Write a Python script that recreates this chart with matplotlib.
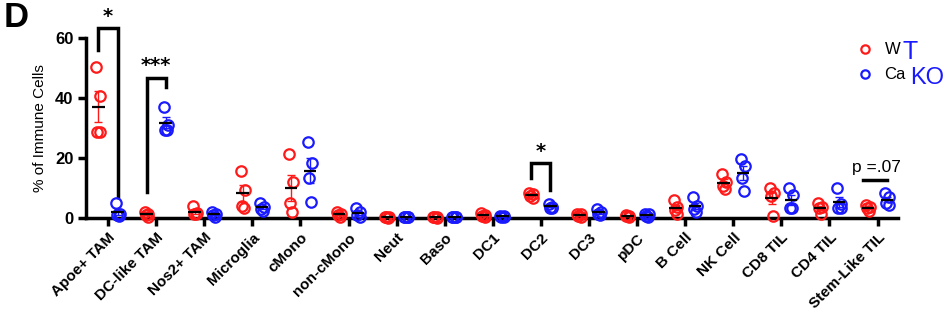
import numpy as np
import matplotlib.pyplot as plt

plt.rcParams['font.family'] = ['Liberation Sans', 'DejaVu Sans']

# cell populations on the x axis
cells = ["Apoe+ TAM", "DC-like TAM", "Nos2+ TAM", "Microglia", "cMono", "non-cMono",
         "Neut", "Baso", "DC1", "DC2", "DC3", "pDC", "B Cell", "NK Cell",
         "CD8 TIL", "CD4 TIL", "Stem-Like TIL"]

# % of immune cells, 4 mice per group
wt = [[50.4, 40.8, 28.7, 28.6], [2.0, 1.5, 1.0, 0.3], [4.0, 1.6, 1.5, 1.4],
      [15.7, 9.5, 4.0, 3.5], [21.5, 12.0, 5.0, 2.0], [2.0, 1.5, 1.0, 0.5],
      [0.4, 0.3, 0.2, 0.1], [0.4, 0.3, 0.2, 0.1], [1.6, 1.0, 0.8, 0.5],
      [8.5, 8.0, 7.5, 6.6], [1.5, 1.2, 0.8, 0.5], [1.0, 0.8, 0.6, 0.4],
      [6.0, 3.8, 2.7, 1.5], [14.7, 12.1, 10.7, 9.6], [9.9, 8.5, 7.5, 0.8],
      [4.9, 3.8, 3.2, 1.3], [4.3, 3.8, 3.2, 2.3]]
ko = [[5.0, 1.5, 1.0, 0.8], [37.0, 31.0, 29.5, 29.5], [2.0, 1.5, 1.0, 0.3],
      [5.0, 3.6, 3.0, 2.5], [25.3, 18.5, 13.5, 5.5], [3.5, 2.0, 1.0, 0.5],
      [0.5, 0.4, 0.3, 0.2], [0.5, 0.4, 0.3, 0.2], [0.8, 0.6, 0.4, 0.3],
      [4.8, 3.8, 3.5, 3.3], [3.0, 2.0, 1.5, 1.0], [1.5, 1.2, 0.8, 0.5],
      [7.0, 4.0, 3.0, 2.0], [19.7, 17.4, 13.4, 9.1], [9.9, 7.7, 3.2, 3.2],
      [10.1, 4.6, 3.2, 3.2], [8.2, 6.9, 4.9, 4.3]]

# significance brackets: (category, top, left leg end, right leg end, label)
brackets = [(0, 63.3, 56, 7, "*"), (1, 46.8, 8.8, 43.8, "***"), (9, 18.2, 13.2, 9.3, "*")]

WT_C = "#ff1a1a"
KO_C = "#1a1aff"

fig = plt.figure(figsize=(9.44, 3.13), dpi=100)
ax = fig.add_axes([0.091, 0.3035, 0.86, 0.575])

x = np.arange(len(cells))
jit = np.array([-0.04, 0.04, -0.02, 0.03])
for vals, off, col in [(wt, -0.2, WT_C), (ko, 0.2, KO_C)]:
    for i, v in enumerate(vals):
        v = np.array(v)
        xs = x[i] + off + jit
        ax.plot(xs, v, 'o', mfc='none', mec=col, mew=1.6, ms=7.5, clip_on=False, zorder=3)
        m = v.mean()
        sem = v.std(ddof=1) / np.sqrt(len(v))
        ax.errorbar(x[i] + off, m, yerr=sem, color=col, lw=1, capsize=3, capthick=1,
                    zorder=4, clip_on=False)
        ax.plot([x[i] + off - 0.13, x[i] + off + 0.13], [m, m], color='black', lw=1.6,
                zorder=5, solid_capstyle='butt')

for c, top, l, r, lab in brackets:
    ax.plot([c - 0.2, c - 0.2, c + 0.2, c + 0.2], [l, top, top, r], color='black', lw=2.5,
            clip_on=False, solid_joinstyle='miter')
    ax.text(c, top + 0.8, lab, ha='center', va='bottom', fontsize=14, fontweight='bold',
            family='DejaVu Sans')

# p value for Stem-Like TIL
ax.plot([16 - 0.3, 16 + 0.2], [12.7, 12.7], color='black', lw=2.5, clip_on=False)
ax.text(15.97, 14.3, "p =.07", ha='center', va='bottom', fontsize=12.5)

ax.set_xlim(-0.46, 16.42)
ax.set_ylim(0, 60)
ax.set_yticks([0, 20, 40, 60])
ax.set_xticks(x)
ax.set_xticklabels(cells, rotation=45, ha='right', rotation_mode='anchor',
                   fontsize=11, fontweight='bold')
for t in ax.get_yticklabels():
    t.set_fontweight('bold')
    t.set_fontsize(12)
ax.tick_params(width=2.5, length=6, direction='out', pad=3)
for s in ['top', 'right']:
    ax.spines[s].set_visible(False)
for s in ['left', 'bottom']:
    ax.spines[s].set_linewidth(2.5)
ax.set_ylabel("% of Immune Cells", fontsize=11, labelpad=6)

# panel letter and legend drawn by hand like the original
fig.text(0.004, 0.89, "D", fontsize=25, fontweight='bold', va='bottom')
fig.lines.append(plt.Line2D([0.916], [0.843], marker='o', mfc='none', mec=WT_C, mew=1.6,
                            ms=6, transform=fig.transFigure))
fig.lines.append(plt.Line2D([0.916], [0.763], marker='o', mfc='none', mec=KO_C, mew=1.6,
                            ms=6, transform=fig.transFigure))
fig.text(0.937, 0.843, "W", fontsize=12, va='center')
fig.text(0.937, 0.763, "Ca", fontsize=12, va='center')
fig.text(0.956, 0.835, "T", fontsize=18, color=KO_C, va='center', fontweight='light')
fig.text(0.964, 0.75, "KO", fontsize=17, color=KO_C, va='center', fontweight='light')

fig.savefig("out.png", dpi=100)
